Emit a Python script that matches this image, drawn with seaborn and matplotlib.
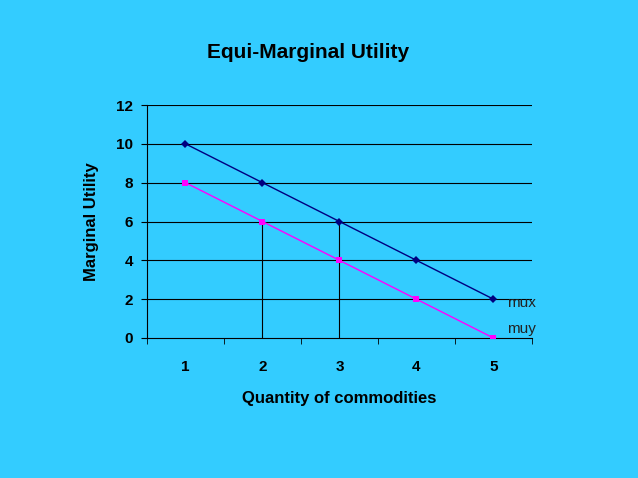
import matplotlib
matplotlib.use("Agg")
import matplotlib.pyplot as plt
import seaborn as sns
import pandas as pd

quantity = [1, 2, 3, 4, 5]
mux = [10, 8, 6, 4, 2]
muy = [8, 6, 4, 2, 0]

sns.set_style("white")
plt.rcParams['font.family'] = ['Liberation Sans', 'DejaVu Sans']
plt.rcParams['text.color'] = 'black'
plt.rcParams['axes.labelcolor'] = 'black'
plt.rcParams['xtick.color'] = 'black'
plt.rcParams['ytick.color'] = 'black'

bg = "#33CCFF"
fig = plt.figure(figsize=(6.38, 4.78), dpi=100, facecolor=bg)
ax = fig.add_axes([0.2304, 0.2929, 0.6034, 0.4874])
ax.set_facecolor(bg)

df = pd.DataFrame({"q": quantity, "mux": mux, "muy": muy})
for y in range(2, 13, 2):
    ax.axhline(y, color="black", linewidth=0.8, zorder=1)
ax.vlines([2, 3], 0, [muy[1], mux[2]], color="black", linewidth=0.8, zorder=1)
sns.lineplot(data=df, x="q", y="mux", ax=ax, color="#000080", marker="D",
             markersize=4, markeredgewidth=0, linewidth=1, zorder=3)
sns.lineplot(data=df, x="q", y="muy", ax=ax, color="#FF00FF", marker="s",
             markersize=4.5, markeredgewidth=0, linewidth=1, zorder=3)
ax.text(quantity[-1] + 0.17, mux[-1] - 0.2, "mux", fontsize=11, va="center", color="#222222")
ax.text(quantity[-1] + 0.17, muy[-1] + 0.45, "muy", fontsize=11, va="center", color="#222222")

ax.set_xlim(0.5, 5.5)
ax.set_ylim(0, 12)
ax.set_xticks(quantity)
ax.set_xticks([0.5, 1.5, 2.5, 3.5, 4.5, 5.5], minor=True)
ax.set_yticks(range(0, 13, 2))
ax.tick_params(axis="x", which="major", length=0, pad=16, labelsize=11)
ax.tick_params(axis="x", which="minor", length=4, direction="out", bottom=True)
ax.tick_params(axis="y", length=4, direction="out", left=True, labelsize=11, pad=6)
for lab in ax.get_xticklabels() + ax.get_yticklabels():
    lab.set_fontweight("bold")
for s in ["top", "right"]:
    ax.spines[s].set_visible(False)
for s in ["left", "bottom"]:
    ax.spines[s].set_color("black")
    ax.spines[s].set_linewidth(0.8)

ax.set_xlabel("Quantity of commodities", fontsize=12, fontweight="bold", labelpad=12)
ax.set_ylabel("Marginal Utility", fontsize=12, fontweight="bold", labelpad=12)
fig.text(0.483, 0.891, "Equi-Marginal Utility", fontsize=15, fontweight="bold",
         ha="center", va="center")

fig.savefig("out.png", dpi=100, facecolor=bg)
